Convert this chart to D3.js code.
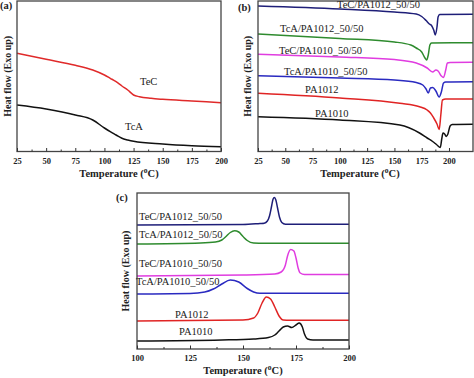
<!DOCTYPE html>
<html>
<head>
<meta charset="utf-8">
<script src="https://cdn.jsdelivr.net/npm/d3@7"></script>
<style>
  body { margin: 0; background: #fff; }
  svg { display: block; font-family: "Liberation Serif", "Times New Roman", serif; }
</style>
</head>
<body>
<svg width="474" height="378"></svg>
<script>
// ---- данные (значения теплового потока в усл. ед.) ----

// панель (a)
const tA_TeC = [25, 50, 75, 90, 100, 105, 110, 115, 120, 125, 130, 140, 150, 175, 200];
const hA_TeC = [98.2, 92.2, 86.2, 81.5, 76.5, 73.2, 69.8, 65.5, 61.5, 56.5, 54.8, 53.2, 52.2, 50.5, 48.8];
const tA_TcA = [25, 50, 75, 90, 100, 105, 110, 115, 120, 125, 150, 175, 200];
const hA_TcA = [46.5, 42.5, 36.5, 31.5, 23.5, 19.8, 16.5, 13.2, 11.5, 10.2, 7.5, 5.8, 4.8];

// панель (b) - нагрев
const tB_TeC1012 = [25, 100, 150, 170, 175, 179, 182, 184, 186, 187.5, 189, 190, 191.5, 222];
const hB_TeC1012 = [145.5, 142.5, 139.5, 137.5, 135, 131, 127.5, 126, 121.5, 116.5, 124.5, 134.5, 137, 137.2];
const tB_TcA1012 = [25, 100, 150, 165, 170, 175, 178, 179.5, 181, 182.5, 184, 222];
const hB_TcA1012 = [117.5, 113, 109.5, 106.5, 103.5, 99.5, 93.5, 91.5, 96.5, 106.5, 108.5, 108.8];
const tB_TeC1010 = [25, 100, 150, 170, 180, 185, 188, 190, 193, 195, 197, 198.5, 201, 222];
const hB_TeC1010 = [97.2, 94.5, 92, 88.5, 83.5, 79.5, 81.5, 80.5, 75.5, 74, 81.5, 88.5, 89, 89.2];
const tB_TcA1010 = [25, 100, 150, 170, 176, 179, 181, 183, 185, 188, 191, 193, 195, 197, 222];
const hB_TcA1010 = [75.8, 73.5, 71.5, 69, 66.5, 62.5, 58.5, 63.5, 64, 60.5, 54.5, 59.5, 68.5, 69.5, 69.8];
const tB_PA1012 = [25, 100, 155, 173, 180, 183, 186, 189, 191, 192.5, 194, 197, 222];
const hB_PA1012 = [58.2, 53.5, 48.2, 44.8, 41.5, 38.5, 33.5, 27.5, 22, 36.5, 51.5, 52.5, 52.5];
const tB_PA1010 = [25, 100, 155, 173, 180, 185, 189, 192, 193.5, 194.5, 196, 197.5, 199, 201, 203, 222];
const hB_PA1010 = [34.8, 31.5, 26.5, 18.5, 13.5, 10, 6.5, 4, 13.5, 18.5, 17.5, 15, 17.5, 25.5, 27, 27.2];

// панель (c) - охлаждение
const tC_TeC1012 = [100, 150, 158, 160, 161.5, 162.5, 163.5, 164.2, 164.8, 165.5, 166.3, 167.2, 168.3, 170, 200];
const hC_TeC1012 = [124, 124.5, 125.5, 125.8, 128, 133, 143, 150, 151.5, 149, 141, 132, 126.5, 124.8, 124.7];
const tC_TcA1012 = [100, 130, 137, 140, 142, 144, 146, 148, 150, 152, 155, 160, 200];
const hC_TcA1012 = [105, 106, 107, 109, 112.5, 116.5, 118.3, 117, 112.5, 108.5, 106, 105.7, 105.7];
const tC_TeC1010 = [100, 150, 165, 168, 170, 171, 172.5, 174, 175, 176, 177, 179, 200];
const hC_TeC1010 = [73, 74, 75, 77, 84, 93, 99.5, 98, 91, 81, 76, 74.5, 74.5];
const tC_TcA1010 = [100, 125, 132, 136, 140, 144, 148, 152, 155, 158, 200];
const hC_TcA1010 = [55, 55.5, 57, 60, 65, 69, 67, 60.5, 57, 55.7, 55.7];
const tC_PA1012 = [100, 150, 155, 157, 159, 161, 163, 165, 167, 169, 172, 200];
const hC_PA1012 = [28, 29, 31, 36, 46, 52, 50, 42, 33, 29, 28.7, 28.7];
const tC_PA1010 = [100, 140, 155, 162, 165, 167, 169, 171, 173, 175, 176.5, 178, 179, 180.5, 183, 200];
const hC_PA1010 = [8, 9, 10, 11.5, 14, 18, 22, 23, 21.5, 24, 26, 22, 15, 10, 9, 9];

// подписи делений
const ticksAB = [25, 50, 75, 100, 125, 150, 175, 200];
const ticksC = [100, 125, 150, 175, 200];

const zip = (t, h) => t.map((d, i) => ({ t: d, h: h[i] }));

// ---- отрисовка ----
let svg = d3.select("svg");

function drawPanel(svg, cfg) {
    const g = svg.append("g");

    let scaleX = d3.scaleLinear().domain(cfg.xDomain).range([cfg.x0, cfg.x1]);
    let scaleY = d3.scaleLinear().domain(cfg.yDomain).range([cfg.y1, cfg.y0]);

    const line = d3.line()
        .x(d => scaleX(d.t))
        .y(d => scaleY(d.h))
        .curve(d3.curveMonotoneX);

    cfg.series.forEach(s => {
        g.append("path")
            .attr("d", line(zip(s.t, s.h)))
            .attr("fill", "none")
            .attr("stroke", s.color)
            .attr("stroke-width", 1.5);
    });

    // рамка
    g.append("rect")
        .attr("x", cfg.x0).attr("y", cfg.y0)
        .attr("width", cfg.x1 - cfg.x0).attr("height", cfg.y1 - cfg.y0)
        .attr("fill", "none").attr("stroke", "#444").attr("stroke-width", 1.3);

    // ось X: большие и малые деления внутрь
    const minor = d3.range(cfg.ticks[0], cfg.ticks[cfg.ticks.length - 1] + 0.1, 12.5);
    let axisX = d3.axisBottom(scaleX).tickValues(cfg.ticks).tickSizeInner(-3.5).tickSizeOuter(0).tickPadding(6);
    let axisMinor = d3.axisBottom(scaleX).tickValues(minor.filter(v => !cfg.ticks.includes(v)))
        .tickSizeInner(-2).tickSizeOuter(0).tickFormat("");

    const ax = g.append("g").attr("transform", `translate(0, ${cfg.y1})`).call(axisX);
    const axm = g.append("g").attr("transform", `translate(0, ${cfg.y1})`).call(axisMinor);
    [ax, axm].forEach(a => {
        a.select(".domain").remove();
        a.selectAll("line").attr("stroke", "#333").attr("stroke-width", 1);
    });
    ax.selectAll("text")
        .attr("fill", "#222")
        .style("font-size", "8.5px")
        .style("font-weight", "bold")
        .style("font-family", "'Liberation Serif', serif");

    // подпись оси X
    const xt = g.append("text")
        .attr("x", (cfg.titleX !== undefined) ? cfg.titleX : (cfg.x0 + cfg.x1) / 2)
        .attr("y", cfg.y1 + 25)
        .attr("text-anchor", "middle")
        .attr("fill", "#222")
        .style("font-size", "10.5px").style("font-weight", "bold");
    xt.append("tspan").text("Temperature (");
    xt.append("tspan").text("o").attr("dy", -4).style("font-size", "7.5px");
    xt.append("tspan").text("C)").attr("dy", 4);

    // подпись оси Y
    g.append("text")
        .attr("transform", `translate(${cfg.yLabelX}, ${(cfg.y0 + cfg.y1) / 2}) rotate(-90)`)
        .attr("text-anchor", "middle")
        .attr("dy", "0.35em")
        .attr("fill", "#222")
        .style("font-size", "10px").style("font-weight", "bold")
        .text("Heat flow (Exo up)");

    // буква панели
    g.append("text")
        .attr("x", cfg.tag[0]).attr("y", cfg.tag[1])
        .attr("fill", "#222")
        .style("font-size", "10.5px").style("font-weight", "bold")
        .text(cfg.tag[2]);

    // подписи кривых
    cfg.labels.forEach(l => {
        g.append("text")
            .attr("x", l[0]).attr("y", l[1])
            .attr("fill", "#222")
            .style("font-size", "10.5px")
            .text(l[2]);
    });
}

drawPanel(svg, {
    x0: 17, x1: 221, y0: 1, y1: 151.5,
    xDomain: [25, 200], yDomain: [0, 150.5],
    ticks: ticksAB, yLabelX: 7,
    tag: [0, 9, "(a)"],
    series: [
        { t: tA_TeC, h: hA_TeC, color: "#e02a2a" },
        { t: tA_TcA, h: hA_TcA, color: "#111" }
    ],
    labels: [[140, 85, "TeC"], [125, 130, "TcA"]]
});

drawPanel(svg, {
    x0: 258, x1: 473, y0: 1, y1: 151.5,
    xDomain: [25, 25 + 215 / 1.0914], yDomain: [0, 150.5],
    ticks: ticksAB, yLabelX: 247, titleX: 360,
    tag: [238, 11, "(b)"],
    series: [
        { t: tB_TeC1012, h: hB_TeC1012, color: "#1e1e78" },
        { t: tB_TcA1012, h: hB_TcA1012, color: "#2e8b2e" },
        { t: tB_TeC1010, h: hB_TeC1010, color: "#e03ce0" },
        { t: tB_TcA1010, h: hB_TcA1010, color: "#2a2ac0" },
        { t: tB_PA1012, h: hB_PA1012, color: "#e02424" },
        { t: tB_PA1010, h: hB_PA1010, color: "#111" }
    ],
    labels: [
        [337, 8, "TeC/PA1012_50/50"],
        [280, 32, "TcA/PA1012_50/50"],
        [279, 54, "TeC/PA1010_50/50"],
        [284, 75, "TcA/PA1010_50/50"],
        [305, 93, "PA1012"],
        [315, 117, "PA1010"]
    ]
});

drawPanel(svg, {
    x0: 137, x1: 349, y0: 193, y1: 349,
    xDomain: [100, 200], yDomain: [0, 156],
    ticks: ticksC, yLabelX: 125,
    tag: [116, 201, "(c)"],
    series: [
        { t: tC_TeC1012, h: hC_TeC1012, color: "#1e1e78" },
        { t: tC_TcA1012, h: hC_TcA1012, color: "#2e8b2e" },
        { t: tC_TeC1010, h: hC_TeC1010, color: "#e03ce0" },
        { t: tC_TcA1010, h: hC_TcA1010, color: "#2a2ac0" },
        { t: tC_PA1012, h: hC_PA1012, color: "#e02424" },
        { t: tC_PA1010, h: hC_PA1010, color: "#111" }
    ],
    labels: [
        [139, 220, "TeC/PA1012_50/50"],
        [139, 238, "TcA/PA1012_50/50"],
        [139, 267, "TeC/PA1010_50/50"],
        [136, 285, "TcA/PA1010_50/50"],
        [175, 318, "PA1012"],
        [179, 335, "PA1010"]
    ]
});
</script>
</body>
</html>
